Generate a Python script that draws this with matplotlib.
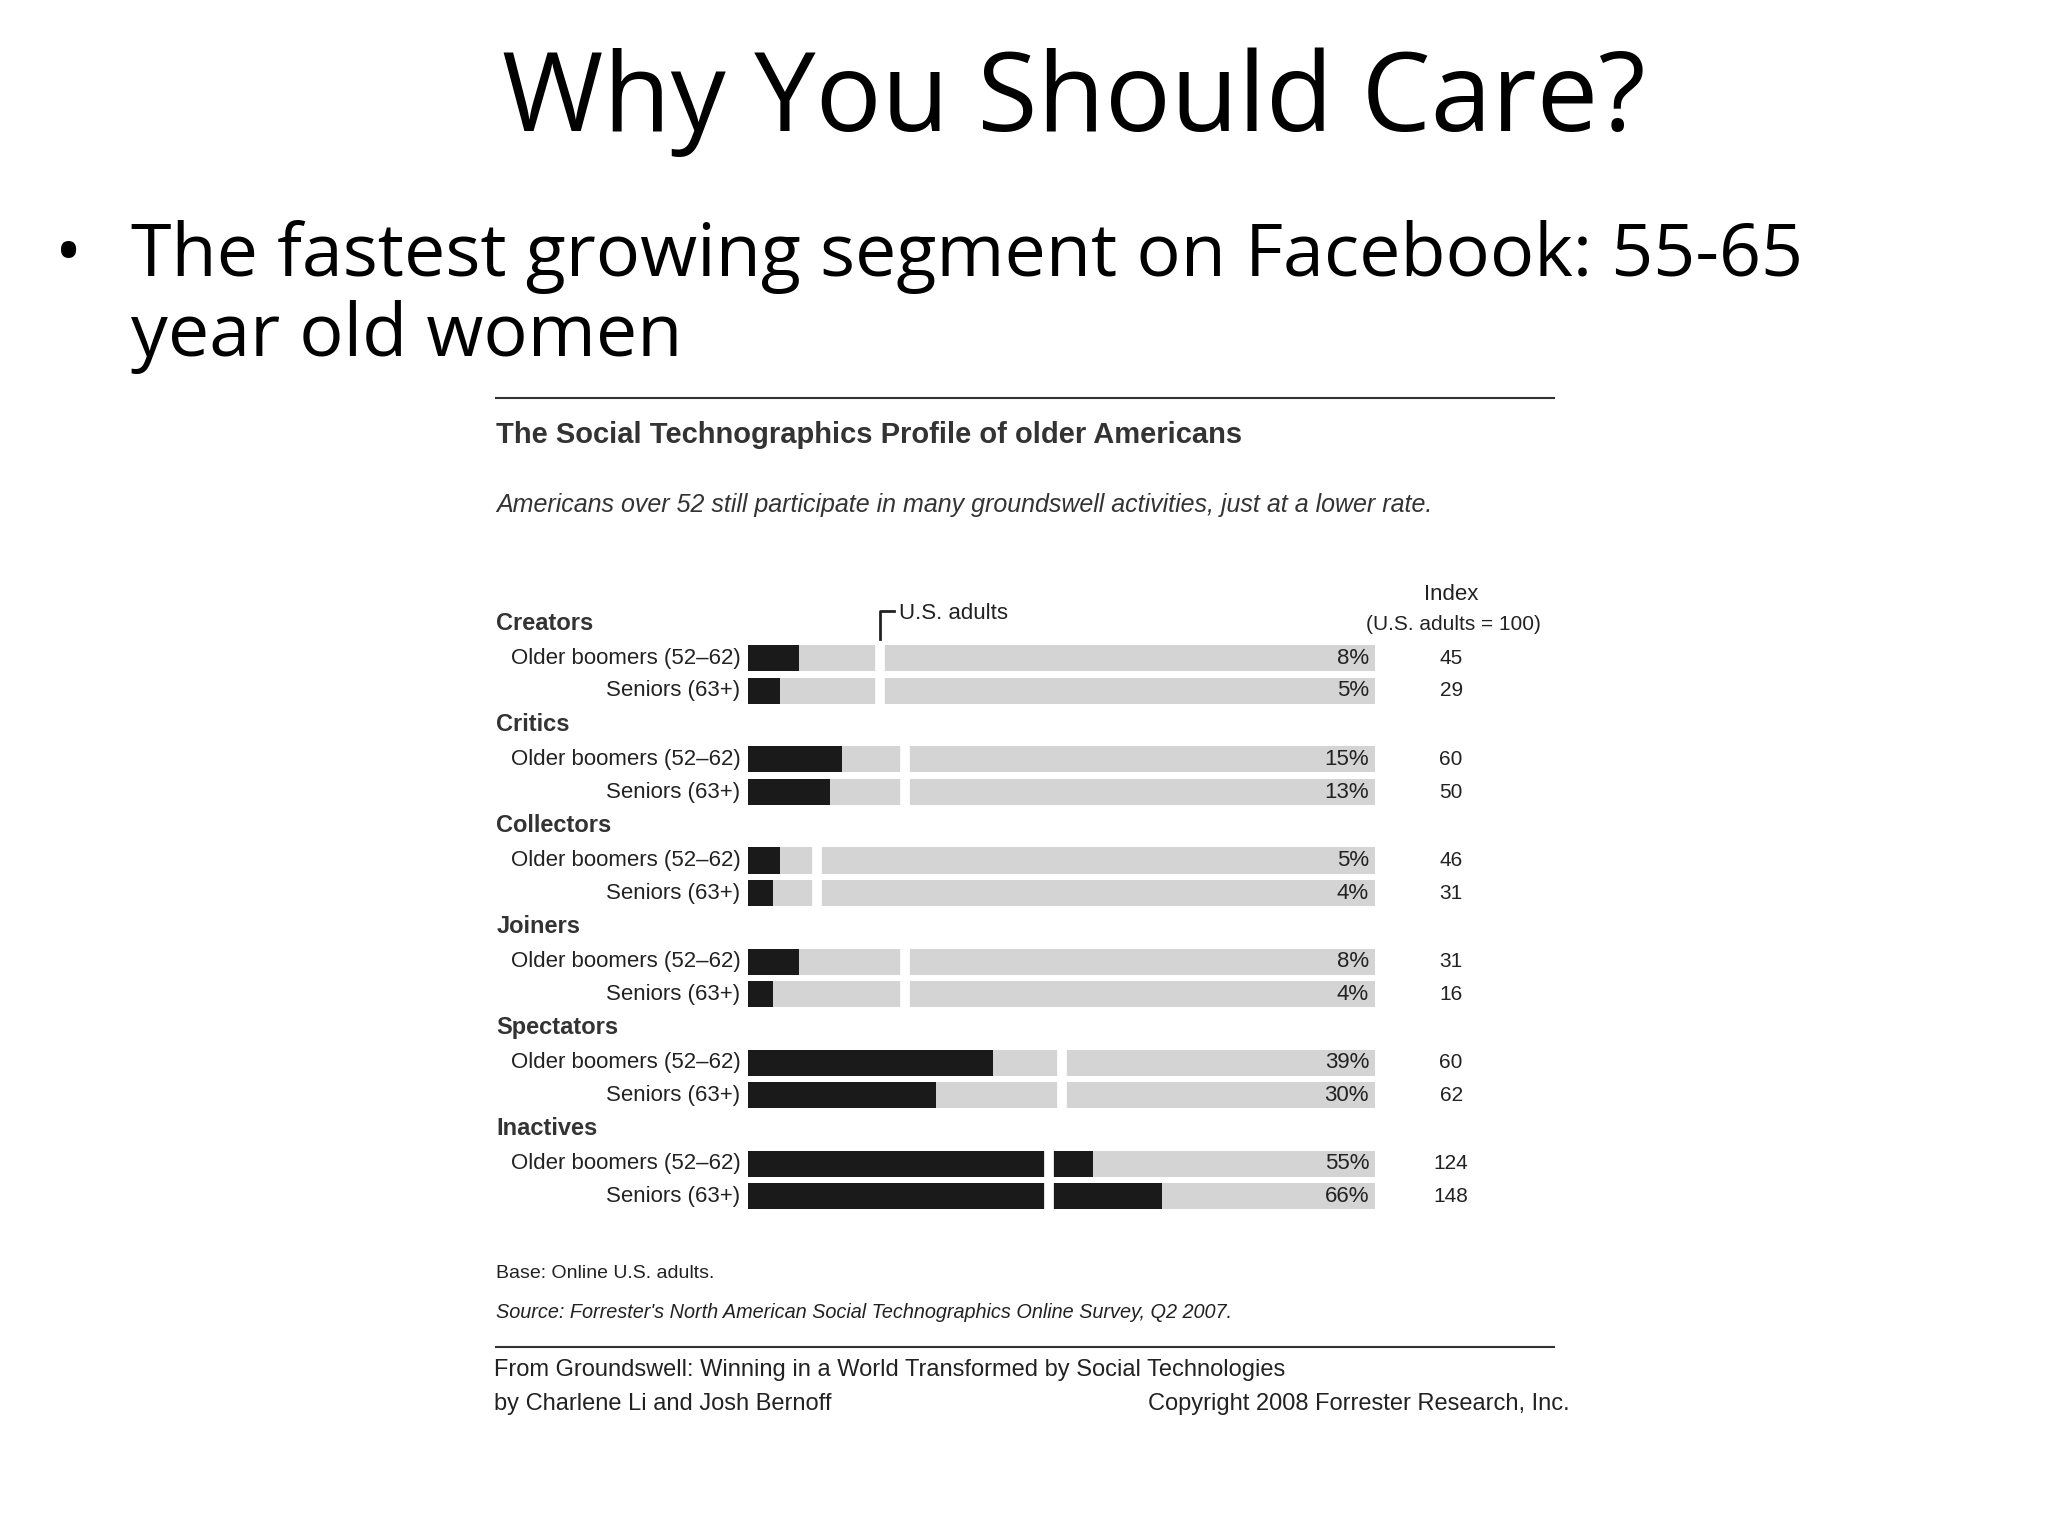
import matplotlib
matplotlib.use("Agg")
import matplotlib.pyplot as plt

groups = ["Creators", "Critics", "Collectors", "Joiners", "Spectators", "Inactives"]
sub_labels = ["Older boomers (52\u201362)", "Seniors (63+)"]
boomers = [8, 15, 5, 8, 39, 55]
seniors = [5, 13, 4, 4, 30, 66]
us_adults = [21, 25, 11, 25, 50, 48]
idx_boomers = [45, 60, 46, 31, 60, 124]
idx_seniors = [29, 50, 31, 16, 62, 148]

W, H = 1568.0, 1176.0
fig = plt.figure(figsize=(20.48, 15.36), dpi=100)
fig.patch.set_facecolor("white")

def fx(x):
    return x / W

def fy(y):
    return 1 - y / H

SANS = "Liberation Sans"

# slide text
fig.text(fx(822), fy(78), "Why You Should Care?", fontsize=79, family="Open Sans",
         ha="center", va="center")
fig.text(fx(42), fy(197), "\u2022", fontsize=52, family="Open Sans", va="center")
fig.text(fx(100), fy(197), "The fastest growing segment on Facebook: 55-65",
         fontsize=53, family="Open Sans", va="center")
fig.text(fx(100), fy(258), "year old women", fontsize=53, family="Open Sans", va="center")

# rules
for y in (305, 1031):
    fig.add_artist(plt.Line2D([fx(380), fx(1190)], [fy(y), fy(y)], color="#333333", lw=1.5))

fig.text(fx(380), fy(333), "The Social Technographics Profile of older Americans",
         fontsize=21, family=SANS, weight="bold", color="#333333", va="center")
fig.text(fx(380), fy(387), "Americans over 52 still participate in many groundswell activities, just at a lower rate.",
         fontsize=18, family=SANS, style="italic", color="#333333", va="center")

# bar area: x 0..100 maps to px 573..1053, y in ref px
top, bot = 440, 930
ax = fig.add_axes([fx(573), fy(bot), fx(1053) - fx(573), (bot - top) / H])
ax.set_xlim(0, 100)
ax.set_ylim(bot, top)
ax.axis("off")

for i, g in enumerate(groups):
    base = 477 + i * 77.4
    rows = [base + 27, base + 52]
    fig.text(fx(380), fy(base), g, fontsize=17, family=SANS, weight="bold",
             color="#333333", va="center")
    for r, lab, val, ind in zip(rows, sub_labels, [boomers[i], seniors[i]],
                                [idx_boomers[i], idx_seniors[i]]):
        ax.barh(r, 100, height=20, left=0, color="#d4d4d4")
        ax.barh(r, val, height=20, left=0, color="#1a1a1a")
        ax.plot([us_adults[i], us_adults[i]], [r - 11, r + 11], color="white", lw=7,
                solid_capstyle="butt")
        fig.text(fx(567), fy(r), lab, fontsize=16, family=SANS, color="#222222",
                 ha="right", va="center")
        ax.text(99, r, f"{val}%", fontsize=16, family=SANS, color="#222222",
                ha="right", va="center")
        fig.text(fx(1111), fy(r), str(ind), fontsize=15, family=SANS, color="#222222",
                 ha="center", va="center")

# U.S. adults marker
ux = us_adults[0]
ax.plot([ux, ux, ux + 2.2], [489, 468, 468], color="#222222", lw=2)
fig.text(fx(688), fy(470), "U.S. adults", fontsize=16, family=SANS, color="#222222", va="center")

fig.text(fx(1111), fy(455), "Index", fontsize=16, family=SANS, color="#222222",
         ha="center", va="center")
fig.text(fx(1113), fy(478), "(U.S. adults = 100)", fontsize=15, family=SANS, color="#222222",
         ha="center", va="center")

fig.text(fx(380), fy(975), "Base: Online U.S. adults.", fontsize=14, family=SANS,
         color="#222222", va="center")
fig.text(fx(380), fy(1005), "Source: Forrester's North American Social Technographics Online Survey, Q2 2007.",
         fontsize=14.3, family=SANS, color="#222222", va="center", style="italic")
fig.text(fx(378), fy(1049), "From Groundswell: Winning in a World Transformed by Social Technologies",
         fontsize=17, family=SANS, color="#222222", va="center")
fig.text(fx(378), fy(1075), "by Charlene Li and Josh Bernoff", fontsize=17, family=SANS,
         color="#222222", va="center")
fig.text(fx(1202), fy(1075), "Copyright 2008 Forrester Research, Inc.", fontsize=17,
         family=SANS, color="#222222", va="center", ha="right")

fig.savefig("out.png", dpi=100)
